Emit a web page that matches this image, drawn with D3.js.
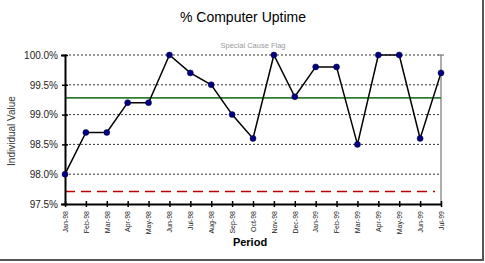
<!DOCTYPE html>
<html>
<head>
<meta charset="utf-8">
<script src="https://cdn.jsdelivr.net/npm/d3@7"></script>
<style>
  html, body { margin: 0; padding: 0; background: #fff; }
  svg { display: block; font-family: "Liberation Sans", Arial, sans-serif; }
</style>
</head>
<body>
<svg id="chart" width="485" height="263"></svg>
<script>
// Monthly periods and uptime readings (percent)
const periods = ["Jan-98","Feb-98","Mar-98","Apr-98","May-98","Jun-98","Jul-98","Aug-98","Sep-98","Oct-98",
                 "Nov-98","Dec-98","Jan-99","Feb-99","Mar-99","Apr-99","May-99","Jun-99","Jul-99"];
const uptime = [98.0, 98.7, 98.7, 99.2, 99.2, 100.0, 99.7, 99.5, 99.0, 98.6,
                100.0, 99.3, 99.8, 99.8, 98.5, 100.0, 100.0, 98.6, 99.7];
const centerLine = 99.28;
const lowerLimit = 97.71;
const yTicks = [97.5, 98.0, 98.5, 99.0, 99.5, 100.0];

const svg = d3.select("#chart");
const plotLeft = 65, plotRight = 441, plotTop = 55, plotBottom = 204;

const x = d3.scalePoint().domain(periods).range([plotLeft, plotRight]);
const y = d3.scaleLinear().domain([97.5, 100]).range([plotBottom, plotTop]);

// outer frame shadow (right and bottom edges)
svg.append("line").attr("x1", 483).attr("x2", 483).attr("y1", 0).attr("y2", 261)
  .attr("stroke", "#555").attr("stroke-width", 2);
svg.append("line").attr("x1", 0).attr("x2", 484).attr("y1", 260).attr("y2", 260)
  .attr("stroke", "#555").attr("stroke-width", 2);

// title
svg.append("text").attr("x", 243).attr("y", 22).attr("text-anchor", "middle")
  .attr("font-size", 14).attr("fill", "#000").text("% Computer Uptime");

// dotted gridlines
svg.append("g").selectAll("line").data(yTicks.slice(1)).join("line")
  .attr("x1", plotLeft).attr("x2", plotRight)
  .attr("y1", d => y(d)).attr("y2", d => y(d))
  .attr("stroke", "#333").attr("stroke-width", 1).attr("stroke-dasharray", "2,2");

// right border of plot area
svg.append("line").attr("x1", plotRight).attr("x2", plotRight).attr("y1", plotTop).attr("y2", plotBottom)
  .attr("stroke", "#777").attr("stroke-width", 1.2);
svg.append("line").attr("x1", plotRight - 3).attr("x2", plotRight + 3).attr("y1", plotTop).attr("y2", plotTop)
  .attr("stroke", "#777").attr("stroke-width", 1.2);

// flag caption
svg.append("text").attr("x", 253).attr("y", 48).attr("text-anchor", "middle")
  .attr("font-size", 7.5).attr("fill", "#999").text("Special Cause Flag");

// center line and lower limit
svg.append("line").attr("x1", plotLeft).attr("x2", plotRight)
  .attr("y1", y(centerLine)).attr("y2", y(centerLine))
  .attr("stroke", "#2e7d32").attr("stroke-width", 1.6);
svg.append("line").attr("x1", plotLeft).attr("x2", 435)
  .attr("y1", y(lowerLimit)).attr("y2", y(lowerLimit))
  .attr("stroke", "#c00000").attr("stroke-width", 1.6).attr("stroke-dasharray", "10,6");

// y axis
const yAxis = svg.append("g").attr("transform", `translate(${plotLeft},0)`)
  .call(d3.axisLeft(y).tickValues(yTicks).tickFormat(d => d.toFixed(1) + "%").tickSize(4).tickPadding(3));
yAxis.select(".domain").attr("stroke", "#000").attr("stroke-width", 2);
yAxis.selectAll(".tick line").attr("stroke", "#000").attr("stroke-width", 1.5).attr("x2", 3).attr("x1", -3);
yAxis.selectAll(".tick text").attr("font-size", 10).attr("fill", "#222")
  .attr("font-family", "Liberation Sans, Arial, sans-serif");

// x axis
const xAxis = svg.append("g").attr("transform", `translate(0,${plotBottom})`)
  .call(d3.axisBottom(x).tickSize(4).tickSizeOuter(0).tickPadding(3));
xAxis.select(".domain").attr("stroke", "#000").attr("stroke-width", 2);
xAxis.selectAll(".tick line").attr("stroke", "#000").attr("stroke-width", 1.5).attr("y1", -3).attr("y2", 3);
xAxis.selectAll(".tick text")
  .attr("font-size", 7).attr("fill", "#222")
  .attr("font-family", "Liberation Sans, Arial, sans-serif")
  .attr("text-anchor", "end")
  .attr("dy", "0.32em")
  .attr("transform", "rotate(-90)")
  .attr("x", -7).attr("y", 0);

// axis titles
svg.append("text").attr("transform", "translate(15,131) rotate(-90)")
  .attr("text-anchor", "middle").attr("font-size", 10).attr("fill", "#333").text("Individual Value");
svg.append("text").attr("x", 250).attr("y", 246).attr("text-anchor", "middle")
  .attr("font-size", 11).attr("font-weight", "bold").attr("fill", "#000").text("Period");

// data line and points
const line = d3.line().x((d, i) => x(periods[i])).y(d => y(d));
svg.append("path").datum(uptime).attr("d", line)
  .attr("fill", "none").attr("stroke", "#000").attr("stroke-width", 1.5);
svg.append("g").selectAll("circle").data(uptime).join("circle")
  .attr("cx", (d, i) => x(periods[i])).attr("cy", d => y(d)).attr("r", 3)
  .attr("fill", "#000080").attr("stroke", "#000040").attr("stroke-width", 0.5);
</script>
</body>
</html>
